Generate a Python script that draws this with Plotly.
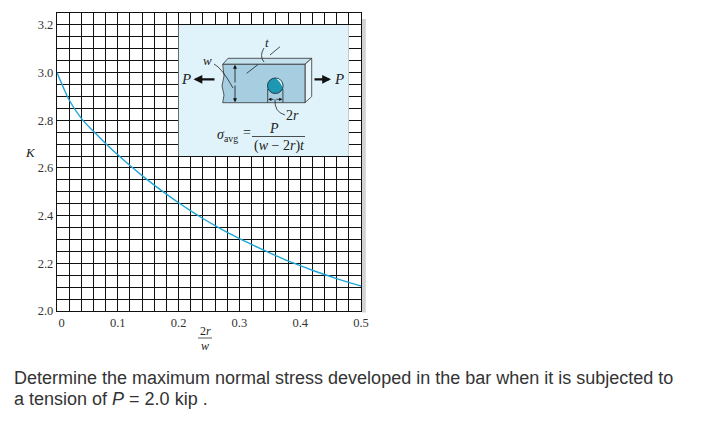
import plotly.graph_objects as go

# K vs 2r/w
razao = [0.0, 0.01, 0.02, 0.04, 0.06, 0.08, 0.10, 0.12, 0.14, 0.16, 0.18, 0.20,
         0.22, 0.24, 0.26, 0.28, 0.30, 0.32, 0.34, 0.36, 0.38, 0.40,
         0.42, 0.44, 0.46, 0.48, 0.50]
k_valores = [3.00, 2.94, 2.885, 2.808, 2.754, 2.703, 2.655, 2.610, 2.568, 2.528, 2.490, 2.454,
             2.420, 2.388, 2.358, 2.330, 2.304, 2.279, 2.255, 2.232, 2.210, 2.190,
             2.171, 2.153, 2.136, 2.120, 2.105]
x_ticks = [0, 0.1, 0.2, 0.3, 0.4, 0.5]
x_tick_txt = ['\u00a0\u00a0\u00a00', '0.1', '0.2', '0.3', '0.4', '0.5']
y_ticks = [2.0, 2.2, 2.4, 2.6, 2.8, 3.0, 3.2]
y_tick_txt = ['2.0', '2.2', '2.4', '2.6', '2.8', '3.0', '3.2']
enunciado = ['Determine the maximum normal stress developed in the bar when it is subjected to',
             'a tension of <i>P</i> = 2.0 kip .']

# page has an 8px body margin, so the figure is drawn 8px smaller and shifted
OFF = 8
L, T = 57, 13          # plot area left/top on the page
PW, PH = 304, 298      # plot area size
W, H = 702 - OFF, 421 - OFF


# page pixel -> data coords (used only for the drawing inside the inset)
def dx(p):
    return (p - L) / PW * 0.5


def dy(p):
    return 3.25 - (p - T) / PH * 1.25


def pos(pts):
    partes = []
    for p in pts:
        cmd, nums = p[0], p[1:]
        xy = ['%.5f,%.5f' % (dx(nums[i]), dy(nums[i + 1])) for i in range(0, len(nums), 2)]
        partes.append(cmd + ' '.join(xy))
    return ' '.join(partes)


fig = go.Figure()
fig.add_trace(go.Scatter(x=razao, y=k_valores, mode='lines', line_shape='spline',
                         line=dict(color='#1ea6d8', width=1.4), hoverinfo='skip'))

serif = 'Liberation Serif'
fig.update_layout(
    width=W, height=H,
    margin=dict(l=L - OFF, r=W - (L - OFF) - PW, t=T - OFF, b=H - (T - OFF) - PH),
    paper_bgcolor='white', plot_bgcolor='white',
    showlegend=False,
    xaxis=dict(range=[0, 0.5], tickvals=x_ticks, ticktext=x_tick_txt, ticks='',
               showgrid=True, gridcolor='#111', gridwidth=1.3, zeroline=False,
               showline=True, linecolor='#111', linewidth=1.3, mirror=True,
               minor=dict(dtick=0.02, showgrid=True, gridcolor='#111', gridwidth=1.3),
               tickfont=dict(family=serif, size=12.5, color='#333')),
    yaxis=dict(range=[2.0, 3.25], tickvals=y_ticks, ticktext=y_tick_txt, ticks='',
               showgrid=True, gridcolor='#111', gridwidth=1.3, zeroline=False,
               showline=True, linecolor='#111', linewidth=1.3, mirror=True,
               minor=dict(dtick=0.05, showgrid=True, gridcolor='#111', gridwidth=1.3),
               tickfont=dict(family=serif, size=12.5, color='#333')),
)

shapes = []
# shadow on right side
shapes.append(dict(type='rect', xref='paper', yref='paper', x0=1.003, x1=1.016, y0=-0.005, y1=0.98,
                   fillcolor='#d3d3d3', line_width=0, layer='below'))
# inset box
shapes.append(dict(type='rect', x0=0.2, x1=0.48, y0=2.65, y1=3.2, fillcolor='#e0f3fa',
                   line_width=0, layer='above'))
# bar faces
shapes.append(dict(type='path', path=pos([('M', 228, 58.3), ('L', 311.7, 58.3), ('L', 305, 64.3),
                                            ('L', 222.7, 64.3)]) + ' Z',
                   fillcolor='#c4e1ee', line=dict(color='#333', width=0.8), layer='above'))
shapes.append(dict(type='path', path=pos([('M', 305, 64.3), ('L', 311.7, 58.3), ('L', 311.7, 96.5),
                                            ('L', 305, 102.7)]) + ' Z',
                   fillcolor='#e8f6fb', line=dict(color='#333', width=0.8), layer='above'))
shapes.append(dict(type='path', path=pos([('M', 222.7, 64.3), ('L', 305, 64.3), ('L', 305, 102.7),
                                            ('L', 222.7, 102.7), ('L', 224, 95), ('L', 222, 86),
                                            ('L', 224, 76)]) + ' Z',
                   fillcolor='#a6cee0', line=dict(color='#333', width=0.8), layer='above'))
# hole
shapes.append(dict(type='circle', x0=dx(267.5), x1=dx(283.1), y0=dy(93.5), y1=dy(78),
                   fillcolor='#1e97b3', line=dict(color='#1a3d48', width=1), layer='above'))
shapes.append(dict(type='path', path=pos([('M', 276, 78.6), ('Q', 282.8, 79.2, 282.4, 87.5),
                                            ('Q', 280.5, 81.6, 276, 78.6)]) + ' Z',
                   fillcolor='white', line_width=0, layer='above'))
# 2r dimension
for xx in (267.7, 282.9):
    shapes.append(dict(type='line', x0=dx(xx), x1=dx(xx), y0=dy(89), y1=dy(102.5),
                       line=dict(color='#222', width=0.8), layer='above'))
shapes.append(dict(type='path', path=pos([('M', 275, 99.3), ('Q', 274, 112, 285, 115)]),
                   line=dict(color='#222', width=0.8), layer='above'))
# w leader and t leaders
shapes.append(dict(type='path', path=pos([('M', 214, 64), ('Q', 222, 68, 233, 88)]),
                   line=dict(color='#222', width=0.8), layer='above'))
shapes.append(dict(type='path', path=pos([('M', 264, 48), ('Q', 259, 56, 264, 62)]),
                   line=dict(color='#222', width=0.8), layer='above'))
shapes.append(dict(type='line', x0=dx(280), x1=dx(270), y0=dy(46.7), y1=dy(55),
                   line=dict(color='#222', width=0.8), layer='above'))
shapes.append(dict(type='line', x0=dx(246.7), x1=dx(258), y0=dy(73.3), y1=dy(64.5),
                   line=dict(color='#222', width=0.8), layer='above'))
# fraction bars
shapes.append(dict(type='line', x0=dx(252), x1=dx(305), y0=dy(136.5), y1=dy(136.5),
                   line=dict(color='#222', width=0.8), layer='above'))
shapes.append(dict(type='line', xref='paper', yref='paper', x0=(198 - L) / PW, x1=(212 - L) / PW,
                   y0=(T + PH - 338) / PH, y1=(T + PH - 338) / PH,
                   line=dict(color='#333', width=0.8)))
fig.update_layout(shapes=shapes)

ann = []


def seta(x1, y1, x2, y2, w=1.6, head=2, size=1):
    ann.append(dict(x=dx(x2), y=dy(y2), ax=dx(x1), ay=dy(y1), axref='x', ayref='y',
                    text='', showarrow=True, arrowhead=head, arrowsize=size,
                    arrowwidth=w, arrowcolor='#111'))


def txt(x, y, s, size=11, ref='data', anchor='center', font=serif, color='#222'):
    if ref == 'data':
        ann.append(dict(x=dx(x), y=dy(y), text=s, showarrow=False, xanchor=anchor,
                        font=dict(family=font, size=size, color=color)))
    else:
        ann.append(dict(x=(x - L) / PW, y=(T + PH - y) / PH, xref='paper', yref='paper',
                        text=s, showarrow=False, xanchor=anchor, yanchor='middle',
                        font=dict(family=font, size=size, color=color)))


# P arrows
seta(216, 79.3, 193.5, 79.3, w=2.2, head=2, size=0.8)
seta(313, 79.3, 331, 79.3, w=2.2, head=2, size=0.8)
txt(185.5, 79.3, '<i>P</i>', 15)
txt(339, 79.3, '<i>P</i>', 15)
# w dimension
seta(235, 84, 235, 64.8, w=0.8, head=2, size=1)
seta(235, 84, 235, 102.2, w=0.8, head=2, size=1)
txt(207.5, 60, '<i>w</i>', 13)
txt(267, 42, '<i>t</i>', 13)
txt(292.5, 115.5, '2<i>r</i>', 14)
seta(275, 99.3, 268.2, 99.3, w=0.8, head=2, size=0.8)
seta(275, 99.3, 282.4, 99.3, w=0.8, head=2, size=0.8)
# formula
txt(214.5, 135.5, '<i>σ</i><sub>avg</sub>', 14, anchor='left')
txt(246.5, 132.5, '=', 14)
txt(274, 128, '<i>P</i>', 14)
txt(279, 145.5, '(<i>w</i> − 2<i>r</i>)<i>t</i>', 14)

# axis labels
txt(30, 152, '<i>K</i>', 13, ref='paper')
txt(205, 331, '2<i>r</i>', 12, ref='paper')
txt(205, 346, '<i>w</i>', 12, ref='paper')

# question text, one annotation per line
for linha, yy in zip(enunciado, (378, 398.5)):
    txt(12, yy, linha, 18, ref='paper', anchor='left', font='Liberation Sans', color='#333')

fig.update_layout(annotations=ann)
fig.write_html("out.html")
